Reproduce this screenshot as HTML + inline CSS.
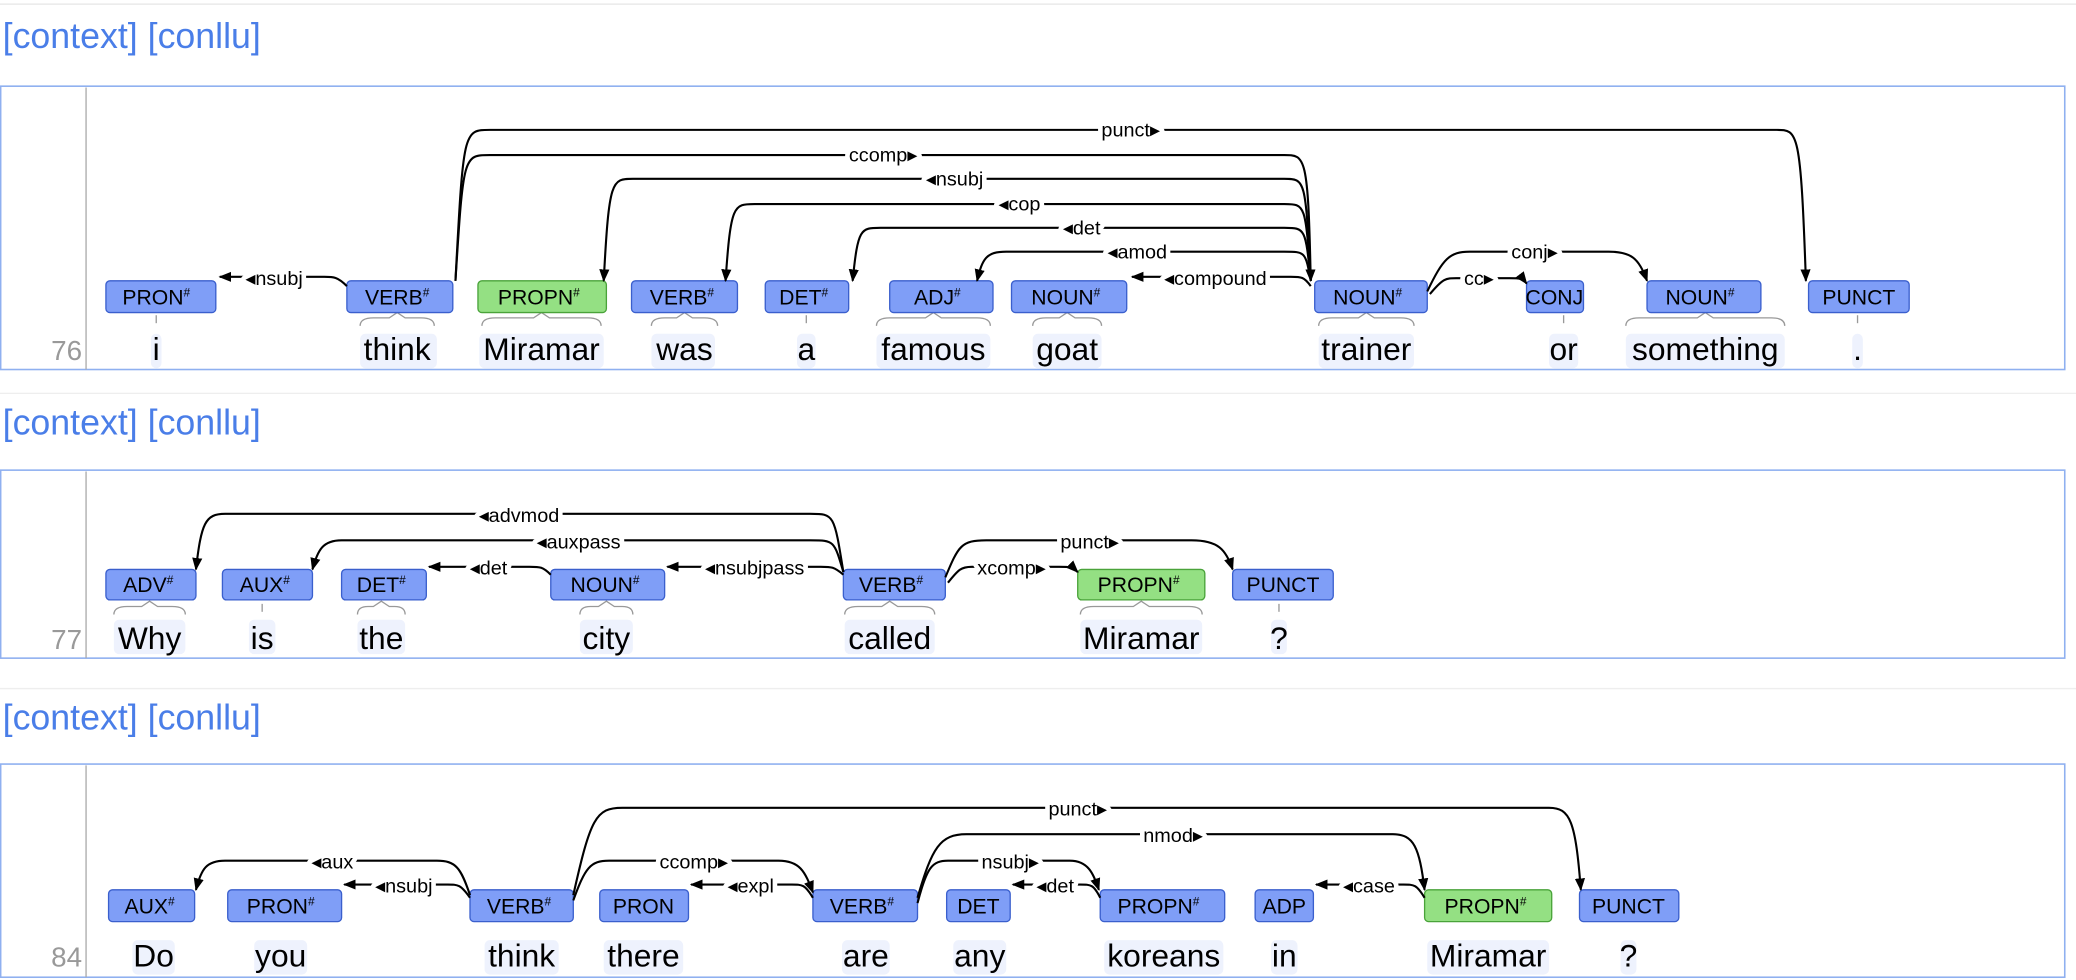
<!DOCTYPE html>
<html><head><meta charset="utf-8"><style>
html,body{margin:0;padding:0;background:#fff;width:2076px;height:980px;overflow:hidden}
svg{display:block}
text{font-family:"Liberation Sans",sans-serif}
.hdr{font-size:27px;fill:#4a7ee8}
.tag{fill:#7f9ef7;stroke:#3a5fcd;stroke-width:1}
.tagg{fill:#94e083;stroke:#4aa33a;stroke-width:1}
.tt{font-size:16px;fill:#000;text-anchor:middle}
.w{font-size:24px;fill:#000;text-anchor:middle}
.wb{fill:#eef2fd}
.num{font-size:21px;fill:#999;text-anchor:end}
.a{fill:none;stroke:#000;stroke-width:1.6}
.lb{font-size:15px;fill:#000;text-anchor:middle;stroke:#fff;stroke-width:7px;paint-order:stroke;stroke-linejoin:round}
.box{fill:#fff;stroke:#8fb0f0;stroke-width:1.2}
.br{fill:none;stroke:#999;stroke-width:1}
</style></head><body>
<svg width="2076" height="980" viewBox="0 0 1568 740">
<defs><marker id="ar" viewBox="0 0 10 10" refX="9" refY="5" markerWidth="6" markerHeight="6" orient="auto"><path d="M0,1 L10,5 L0,9 z" fill="#000"/></marker></defs>
<line x1="0" y1="3" x2="1568" y2="3" stroke="#e6e6e6"/>
<text class="hdr" x="2" y="36">[context] [conllu]</text>
<rect class="box" x="0.5" y="65" width="1559" height="214"/>
<line x1="65" y1="66" x2="65" y2="279" stroke="#aaa"/>
<text class="num" x="62" y="272">76</text>
<g class="wb">
<rect x="114" y="252" width="8" height="26" rx="4"/><rect x="272" y="252" width="58" height="26" rx="4"/><rect x="362" y="252" width="94" height="26" rx="4"/><rect x="492" y="252" width="48" height="26" rx="4"/><rect x="602" y="252" width="14" height="26" rx="4"/><rect x="662" y="252" width="86" height="26" rx="4"/><rect x="780" y="252" width="52" height="26" rx="4"/><rect x="996" y="252" width="72" height="26" rx="4"/><rect x="1170" y="252" width="22" height="26" rx="4"/><rect x="1228" y="252" width="120" height="26" rx="4"/><rect x="1399" y="252" width="8" height="26" rx="4"/>
</g>
<g class="br">
<path d="M118,244 l0,-6"/><path d="M272,246 q0,-6 10,-6 l12,0 l6,-4 l6,4 l12,0 q10,0 10,6"/><path d="M364,246 q0,-6 10,-6 l29,0 l6,-4 l6,4 l29,0 q10,0 10,6"/><path d="M492,246 q0,-6 10,-6 l9,0 l6,-4 l6,4 l9,0 q10,0 10,6"/><path d="M609,244 l0,-6"/><path d="M662,246 q0,-6 10,-6 l27,0 l6,-4 l6,4 l27,0 q10,0 10,6"/><path d="M780,246 q0,-6 10,-6 l10,0 l6,-4 l6,4 l10,0 q10,0 10,6"/><path d="M996,246 q0,-6 10,-6 l20,0 l6,-4 l6,4 l20,0 q10,0 10,6"/><path d="M1181,244 l0,-6"/><path d="M1228,246 q0,-6 10,-6 l44,0 l6,-4 l6,4 l44,0 q10,0 10,6"/><path d="M1403,244 l0,-6"/>
</g>
<g>
<rect class="tag" x="80" y="212" width="83" height="24" rx="3"/><text class="tt" x="118" y="230">PRON<tspan font-size="9" dy="-6">#</tspan></text>
<rect class="tag" x="262" y="212" width="80" height="24" rx="3"/><text class="tt" x="300" y="230">VERB<tspan font-size="9" dy="-6">#</tspan></text>
<rect class="tagg" x="361" y="212" width="97" height="24" rx="3"/><text class="tt" x="407" y="230">PROPN<tspan font-size="9" dy="-6">#</tspan></text>
<rect class="tag" x="477" y="212" width="80" height="24" rx="3"/><text class="tt" x="515" y="230">VERB<tspan font-size="9" dy="-6">#</tspan></text>
<rect class="tag" x="578" y="212" width="63" height="24" rx="3"/><text class="tt" x="607" y="230">DET<tspan font-size="9" dy="-6">#</tspan></text>
<rect class="tag" x="672" y="212" width="78" height="24" rx="3"/><text class="tt" x="708" y="230">ADJ<tspan font-size="9" dy="-6">#</tspan></text>
<rect class="tag" x="764" y="212" width="87" height="24" rx="3"/><text class="tt" x="805" y="230">NOUN<tspan font-size="9" dy="-6">#</tspan></text>
<rect class="tag" x="993" y="212" width="85" height="24" rx="3"/><text class="tt" x="1033" y="230">NOUN<tspan font-size="9" dy="-6">#</tspan></text>
<rect class="tag" x="1153" y="212" width="43" height="24" rx="3"/><text class="tt" x="1174" y="230">CONJ</text>
<rect class="tag" x="1244" y="212" width="86" height="24" rx="3"/><text class="tt" x="1284" y="230">NOUN<tspan font-size="9" dy="-6">#</tspan></text>
<rect class="tag" x="1366" y="212" width="76" height="24" rx="3"/><text class="tt" x="1404" y="230">PUNCT</text>
</g>
<g>
<text class="w" x="118" y="272">i</text><text class="w" x="300" y="272">think</text><text class="w" x="409" y="272">Miramar</text><text class="w" x="517" y="272">was</text><text class="w" x="609" y="272">a</text><text class="w" x="705" y="272">famous</text><text class="w" x="806" y="272">goat</text><text class="w" x="1032" y="272">trainer</text><text class="w" x="1181" y="272">or</text><text class="w" x="1288" y="272">something</text><text class="w" x="1403" y="272">.</text>
</g>
<g>
<path class="a" marker-end="url(#ar)" d="M344,212 C350,98 350,98 370,98 L1342,98 C1358,98 1360,98 1364,212"/>
<path class="a" marker-end="url(#ar)" d="M344,212 C350,117 350,117 370,117 L970,117 C986,117 988,117 990,212"/>
<path class="a" marker-end="url(#ar)" d="M990,212 C986,135 986,135 970,135 L478,135 C462,135 460,135 456,212"/>
<path class="a" marker-end="url(#ar)" d="M990,212 C986,154 986,154 970,154 L570,154 C554,154 552,154 548,212"/>
<path class="a" marker-end="url(#ar)" d="M990,212 C986,172 986,172 970,172 L665,172 C650,172 648,172 644,212"/>
<path class="a" marker-end="url(#ar)" d="M990,212 C986,190 986,190 970,190 L760,190 C745,190 742,195 738,212"/>
<path class="a" marker-end="url(#ar)" d="M990,216 C985,209 983,209 975,209 L855,209"/>
<path class="a" marker-end="url(#ar)" d="M262,216 C255,209 252,209 245,209 L166,209"/>
<path class="a" marker-end="url(#ar)" d="M1078,220 C1090,195 1095,190 1110,190 L1215,190 C1232,190 1238,195 1244,212"/>
<path class="a" marker-end="url(#ar)" d="M1080,222 C1090,210 1092,210 1100,210 L1140,210 C1148,210 1150,210 1153,214"/>
</g>
<g>
<text class="lb" x="854" y="103">punct▸</text>
<text class="lb" x="667" y="122">ccomp▸</text>
<text class="lb" x="721" y="140">◂nsubj</text>
<text class="lb" x="770" y="159">◂cop</text>
<text class="lb" x="817" y="177">◂det</text>
<text class="lb" x="859" y="195">◂amod</text>
<text class="lb" x="918" y="215">◂compound</text>
<text class="lb" x="207" y="215">◂nsubj</text>
<text class="lb" x="1159" y="195">conj▸</text>
<text class="lb" x="1117" y="215">cc▸</text>
</g>

<line x1="0" y1="297" x2="1568" y2="297" stroke="#eee"/>
<text class="hdr" x="2" y="328">[context] [conllu]</text>
<rect class="box" x="0.5" y="355" width="1559" height="142"/>
<line x1="65" y1="356" x2="65" y2="497" stroke="#aaa"/>
<text class="num" x="62" y="490">77</text>
<g class="wb">
<rect x="86" y="468" width="54" height="26" rx="4"/><rect x="188" y="468" width="20" height="26" rx="4"/><rect x="270" y="468" width="36" height="26" rx="4"/><rect x="438" y="468" width="40" height="26" rx="4"/><rect x="638" y="468" width="68" height="26" rx="4"/><rect x="816" y="468" width="92" height="26" rx="4"/><rect x="960" y="468" width="12" height="26" rx="4"/>
</g>
<g class="br">
<path d="M86,464 q0,-6 10,-6 l11,0 l6,-4 l6,4 l11,0 q10,0 10,6"/><path d="M198,462 l0,-6"/><path d="M270,464 q0,-6 8,-6 l4,0 l6,-4 l6,4 l4,0 q8,0 8,6"/><path d="M438,464 q0,-6 8,-6 l6,0 l6,-4 l6,4 l6,0 q8,0 8,6"/><path d="M638,464 q0,-6 10,-6 l18,0 l6,-4 l6,4 l18,0 q10,0 10,6"/><path d="M816,464 q0,-6 10,-6 l30,0 l6,-4 l6,4 l30,0 q10,0 10,6"/><path d="M966,462 l0,-6"/>
</g>
<g>
<rect class="tag" x="80" y="430" width="68" height="23" rx="3"/><text class="tt" x="112" y="447">ADV<tspan font-size="9" dy="-6">#</tspan></text>
<rect class="tag" x="168" y="430" width="68" height="23" rx="3"/><text class="tt" x="200" y="447">AUX<tspan font-size="9" dy="-6">#</tspan></text>
<rect class="tag" x="258" y="430" width="64" height="23" rx="3"/><text class="tt" x="288" y="447">DET<tspan font-size="9" dy="-6">#</tspan></text>
<rect class="tag" x="416" y="430" width="86" height="23" rx="3"/><text class="tt" x="457" y="447">NOUN<tspan font-size="9" dy="-6">#</tspan></text>
<rect class="tag" x="637" y="430" width="77" height="23" rx="3"/><text class="tt" x="673" y="447">VERB<tspan font-size="9" dy="-6">#</tspan></text>
<rect class="tagg" x="814" y="430" width="96" height="23" rx="3"/><text class="tt" x="860" y="447">PROPN<tspan font-size="9" dy="-6">#</tspan></text>
<rect class="tag" x="931" y="430" width="76" height="23" rx="3"/><text class="tt" x="969" y="447">PUNCT</text>
</g>
<g>
<text class="w" x="113" y="490">Why</text><text class="w" x="198" y="490">is</text><text class="w" x="288" y="490">the</text><text class="w" x="458" y="490">city</text><text class="w" x="672" y="490">called</text><text class="w" x="862" y="490">Miramar</text><text class="w" x="966" y="490">?</text>
</g>
<g>
<path class="a" marker-end="url(#ar)" d="M637,432 C630,388 630,388 612,388 L170,388 C155,388 152,395 148,430"/>
<path class="a" marker-end="url(#ar)" d="M637,432 C630,408 630,408 612,408 L258,408 C244,408 240,415 236,430"/>
<path class="a" marker-end="url(#ar)" d="M637,434 C630,428 628,428 620,428 L504,428"/>
<path class="a" marker-end="url(#ar)" d="M416,434 C410,428 408,428 400,428 L324,428"/>
<path class="a" marker-end="url(#ar)" d="M714,436 C724,412 726,408 745,408 L900,408 C920,408 926,415 931,430"/>
<path class="a" marker-end="url(#ar)" d="M716,440 C724,430 726,428 734,428 L800,428 C808,428 810,428 814,432"/>
</g>
<g>
<text class="lb" x="392" y="394">◂advmod</text>
<text class="lb" x="437" y="414">◂auxpass</text>
<text class="lb" x="570" y="434">◂nsubjpass</text>
<text class="lb" x="369" y="434">◂det</text>
<text class="lb" x="823" y="414">punct▸</text>
<text class="lb" x="764" y="434">xcomp▸</text>
</g>

<line x1="0" y1="520" x2="1568" y2="520" stroke="#eee"/>
<text class="hdr" x="2" y="551">[context] [conllu]</text>
<rect class="box" x="0.5" y="577" width="1559" height="161"/>
<line x1="65" y1="578" x2="65" y2="738" stroke="#aaa"/>
<text class="num" x="62" y="730">84</text>
<g class="wb">
<rect x="100" y="710" width="32" height="26" rx="4"/><rect x="192" y="710" width="40" height="26" rx="4"/><rect x="366" y="710" width="56" height="26" rx="4"/><rect x="456" y="710" width="60" height="26" rx="4"/><rect x="636" y="710" width="36" height="26" rx="4"/><rect x="720" y="710" width="40" height="26" rx="4"/><rect x="834" y="710" width="90" height="26" rx="4"/><rect x="960" y="710" width="20" height="26" rx="4"/><rect x="1078" y="710" width="92" height="26" rx="4"/><rect x="1224" y="710" width="12" height="26" rx="4"/>
</g>
<g>
<rect class="tag" x="82" y="672" width="65" height="24" rx="3"/><text class="tt" x="113" y="690">AUX<tspan font-size="9" dy="-6">#</tspan></text>
<rect class="tag" x="172" y="672" width="86" height="24" rx="3"/><text class="tt" x="212" y="690">PRON<tspan font-size="9" dy="-6">#</tspan></text>
<rect class="tag" x="355" y="672" width="78" height="24" rx="3"/><text class="tt" x="392" y="690">VERB<tspan font-size="9" dy="-6">#</tspan></text>
<rect class="tag" x="453" y="672" width="67" height="24" rx="3"/><text class="tt" x="486" y="690">PRON</text>
<rect class="tag" x="614" y="672" width="79" height="24" rx="3"/><text class="tt" x="651" y="690">VERB<tspan font-size="9" dy="-6">#</tspan></text>
<rect class="tag" x="715" y="672" width="48" height="24" rx="3"/><text class="tt" x="739" y="690">DET</text>
<rect class="tag" x="831" y="672" width="94" height="24" rx="3"/><text class="tt" x="875" y="690">PROPN<tspan font-size="9" dy="-6">#</tspan></text>
<rect class="tag" x="948" y="672" width="44" height="24" rx="3"/><text class="tt" x="970" y="690">ADP</text>
<rect class="tagg" x="1076" y="672" width="96" height="24" rx="3"/><text class="tt" x="1122" y="690">PROPN<tspan font-size="9" dy="-6">#</tspan></text>
<rect class="tag" x="1193" y="672" width="75" height="24" rx="3"/><text class="tt" x="1230" y="690">PUNCT</text>
</g>
<g>
<text class="w" x="116" y="730">Do</text><text class="w" x="212" y="730">you</text><text class="w" x="394" y="730">think</text><text class="w" x="486" y="730">there</text><text class="w" x="654" y="730">are</text><text class="w" x="740" y="730">any</text><text class="w" x="879" y="730">koreans</text><text class="w" x="970" y="730">in</text><text class="w" x="1124" y="730">Miramar</text><text class="w" x="1230" y="730">?</text>
</g>
<g>
<path class="a" marker-end="url(#ar)" d="M433,676 C446,618 450,610 470,610 L1170,610 C1186,610 1190,620 1194,672"/>
<path class="a" marker-end="url(#ar)" d="M693,678 C704,640 710,630 730,630 L1052,630 C1068,630 1072,640 1076,672"/>
<path class="a" marker-end="url(#ar)" d="M433,680 C442,655 446,650 460,650 L588,650 C604,650 608,658 614,674"/>
<path class="a" marker-end="url(#ar)" d="M355,676 C348,655 344,650 330,650 L170,650 C156,650 152,656 148,672"/>
<path class="a" marker-end="url(#ar)" d="M355,678 C348,668 346,668 338,668 L260,668"/>
<path class="a" marker-end="url(#ar)" d="M614,678 C608,668 606,668 598,668 L522,668"/>
<path class="a" marker-end="url(#ar)" d="M693,682 C700,655 704,650 716,650 L808,650 C822,650 826,660 830,672"/>
<path class="a" marker-end="url(#ar)" d="M831,678 C826,668 824,668 816,668 L765,668"/>
<path class="a" marker-end="url(#ar)" d="M1076,678 C1070,668 1068,668 1060,668 L994,668"/>
</g>
<g>
<text class="lb" x="814" y="616">punct▸</text>
<text class="lb" x="886" y="636">nmod▸</text>
<text class="lb" x="524" y="656">ccomp▸</text>
<text class="lb" x="251" y="656">◂aux</text>
<text class="lb" x="305" y="674">◂nsubj</text>
<text class="lb" x="567" y="674">◂expl</text>
<text class="lb" x="763" y="656">nsubj▸</text>
<text class="lb" x="797" y="674">◂det</text>
<text class="lb" x="1034" y="674">◂case</text>
</g>
</svg>
</body></html>
